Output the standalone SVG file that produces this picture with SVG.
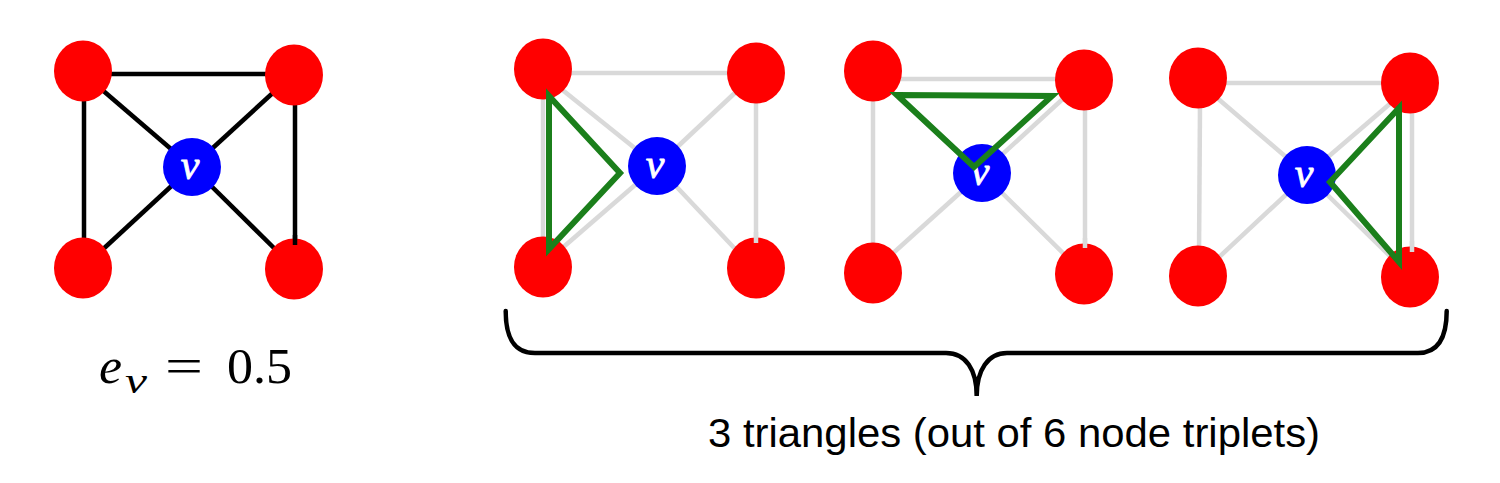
<svg xmlns="http://www.w3.org/2000/svg" width="1500" height="483" viewBox="0 0 1500 483">
<style>
.red{fill:#ff0000}
.blue{fill:#0000ff}
.eb{stroke:#000;stroke-width:4.5;fill:none}
.eg{stroke:#d9d9d9;stroke-width:4.5;fill:none}
.tri{stroke:#1b7f1b;stroke-width:6;fill:none;stroke-linejoin:miter}
.vl{font-family:"Liberation Serif","DejaVu Serif",serif;font-style:italic;font-size:42px;fill:#fff;text-anchor:middle;stroke:#fff;stroke-width:0.8}
.math{font-family:"Liberation Serif","DejaVu Serif",serif;fill:#000}
.lbl{font-family:"Liberation Sans",Arial,sans-serif;font-size:40px;fill:#000}
</style>
<rect width="1500" height="483" fill="#fff"/>
<g id="connectors">
  <!-- graph 1 -->
  <line class="eb" x1="110" y1="74" x2="267" y2="74"/>
  <line class="eb" x1="84" y1="95" x2="84" y2="245"/>
  <line class="eb" x1="295" y1="100" x2="295" y2="245"/>
  <line class="eb" x1="100" y1="88" x2="192" y2="167"/>
  <line class="eb" x1="276" y1="90" x2="192" y2="167"/>
  <line class="eb" x1="100" y1="252" x2="192" y2="167"/>
  <line class="eb" x1="278" y1="252" x2="192" y2="167"/>
  <!-- graph 2 -->
  <line class="eg" x1="571" y1="73" x2="728" y2="73"/>
  <line class="eg" x1="543" y1="95" x2="543" y2="245"/>
  <line class="eg" x1="756" y1="100" x2="756" y2="243"/>
  <line class="eg" x1="560" y1="88" x2="657" y2="166"/>
  <line class="eg" x1="738" y1="90" x2="657" y2="166"/>
  <line class="eg" x1="560" y1="250" x2="657" y2="166"/>
  <line class="eg" x1="738" y1="252" x2="657" y2="166"/>
  <!-- graph 3 -->
  <line class="eg" x1="900" y1="79" x2="1057" y2="79"/>
  <line class="eg" x1="873" y1="98" x2="873" y2="248"/>
  <line class="eg" x1="1085" y1="105" x2="1085" y2="248"/>
  <line class="eg" x1="890" y1="90" x2="982" y2="173"/>
  <line class="eg" x1="1066" y1="96" x2="982" y2="173"/>
  <line class="eg" x1="890" y1="256" x2="982" y2="173"/>
  <line class="eg" x1="1068" y1="258" x2="982" y2="173"/>
  <!-- graph 4 -->
  <line class="eg" x1="1226" y1="83" x2="1383" y2="83"/>
  <line class="eg" x1="1200" y1="105" x2="1199" y2="255"/>
  <line class="eg" x1="1412" y1="110" x2="1412" y2="252"/>
  <line class="eg" x1="1216" y1="97" x2="1307" y2="175"/>
  <line class="eg" x1="1392" y1="102" x2="1307" y2="175"/>
  <line class="eg" x1="1216" y1="260" x2="1307" y2="175"/>
  <line class="eg" x1="1394" y1="260" x2="1307" y2="175"/>
  <!-- brace -->
  <path class="eb" stroke-linecap="round" d="M505.7,311 C505.7,338 514,353 535,353 L946,353 C966,353 976.7,370 976.7,396 C976.7,370 988,353 1007,353 L1418,353 C1438,353 1446.7,338 1446.7,311"/>
</g>
<g id="graph1">
  <ellipse class="red" cx="83" cy="71" rx="29" ry="30.5"/>
  <ellipse class="red" cx="294" cy="75" rx="29" ry="30.5"/>
  <ellipse class="red" cx="83" cy="268" rx="29" ry="30.5"/>
  <ellipse class="red" cx="294" cy="269" rx="29" ry="30.5"/>
  <line class="eb" x1="295" y1="235" x2="295" y2="245"/>
  <circle class="blue" cx="192" cy="167" r="29"/>
  <text class="vl" x="190" y="179">v</text>
</g>
<g id="graph2">
  <ellipse class="red" cx="543" cy="69" rx="29" ry="30.5"/>
  <ellipse class="red" cx="756" cy="73" rx="29" ry="30.5"/>
  <ellipse class="red" cx="543" cy="267" rx="29" ry="30.5"/>
  <ellipse class="red" cx="756" cy="268" rx="29" ry="30.5"/>
  <line class="eg" x1="756" y1="232" x2="756" y2="243"/>
  <circle class="blue" cx="657" cy="166" r="29"/>
  <text class="vl" x="655" y="178">v</text>
  <polygon class="tri" points="549,96 620,173 549,249"/>
</g>
<g id="graph3">
  <ellipse class="red" cx="873" cy="71" rx="29" ry="30.5"/>
  <ellipse class="red" cx="1084" cy="80" rx="29" ry="30.5"/>
  <ellipse class="red" cx="873" cy="273" rx="29" ry="30.5"/>
  <ellipse class="red" cx="1084" cy="274" rx="29" ry="30.5"/>
  <line class="eg" x1="1085" y1="238" x2="1085" y2="248"/>
  <circle class="blue" cx="982" cy="173" r="29"/>
  <text class="vl" x="980" y="185">v</text>
  <polygon class="tri" points="897,95 1052,96 974,167"/>
</g>
<g id="graph4">
  <ellipse class="red" cx="1198" cy="78" rx="29" ry="30.5"/>
  <ellipse class="red" cx="1410" cy="83" rx="29" ry="30.5"/>
  <ellipse class="red" cx="1198" cy="276" rx="29" ry="30.5"/>
  <ellipse class="red" cx="1410" cy="277" rx="29" ry="30.5"/>
  <line class="eg" x1="1412" y1="241" x2="1412" y2="252"/>
  <circle class="blue" cx="1307" cy="175" r="29"/>
  <text class="vl" x="1304" y="187">v</text>
  <polygon class="tri" points="1399,108 1330,182 1399,262"/>
</g>
<g id="formula">
  <text class="math" x="99" y="383" font-size="50" font-style="italic" textLength="23" lengthAdjust="spacingAndGlyphs">e</text>
  <text class="math" x="125" y="393" font-size="36" font-style="italic" textLength="22" lengthAdjust="spacingAndGlyphs">v</text>
  <text class="math" x="165" y="383" font-size="50" textLength="38" lengthAdjust="spacingAndGlyphs">=</text>
  <text class="math" x="227" y="383" font-size="50" textLength="65" lengthAdjust="spacingAndGlyphs">0.5</text>
</g>
<g id="label">
  <text class="lbl" x="708" y="447" textLength="612" lengthAdjust="spacingAndGlyphs">3 triangles (out of 6 node triplets)</text>
</g>
</svg>
